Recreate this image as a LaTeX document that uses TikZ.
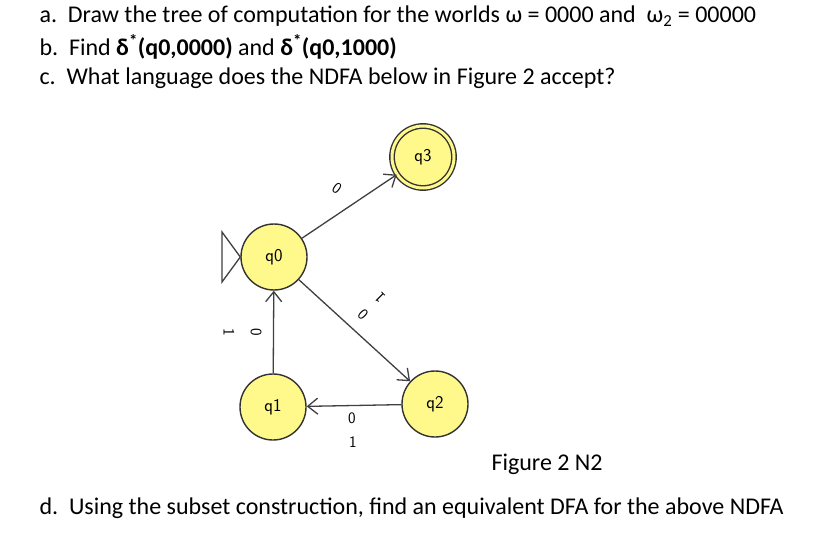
\documentclass[tikz,border=0pt]{standalone}
\usepackage{fontspec}
\setmainfont{Carlito}
\usetikzlibrary{arrows.meta}
\tikzset{
  state/.style={circle, draw=black!80, line width=1.4pt, fill=yellow!45, minimum size=66pt, inner sep=0pt, font=\fontsize{18}{20}\selectfont\sffamily},
  accept/.style={state, double=yellow!45, double distance=3pt, minimum size=62pt},
  trans/.style={draw=black!75, line width=1.3pt, -{Straight Barb[length=10pt,width=16pt]}},
  lbl/.style={font=\fontsize{16}{18}\selectfont\sffamily},
  line/.style={anchor=west, font=\fontsize{24}{28}\selectfont}
}
\begin{document}
\begin{tikzpicture}[x=1pt, y=-1pt]
    \useasboundingbox[fill=white] (0,0) rectangle (818,534);
    \node[line] (ta) at (36,16) {a.\ \ Draw the tree of computation for the worlds ω = 0000 and\ \ ω\textsubscript{2} = 00000};
    \node[line] (tb) at (36,47) {b.\ \ Find \textbf{δ\textsuperscript{*}(q0,0000)} and \textbf{δ\textsuperscript{*}(q0,1000)}};
    \node[line] (tc) at (36,78) {c.\ \ What language does the NDFA below in Figure 2 accept?};
    \node[line] (fig) at (488,464) {Figure 2 N2};
    \node[line] (td) at (36,508) {d.\ \ Using the subset construction, find an equivalent DFA for the above NDFA};

    \node[state] (q0) at (274,257) {q0};
    \node[accept] (q3) at (423,157) {q3};
    \node[state] (q1) at (273,407) {q1};
    \node[state] (q2) at (435,404) {q2};
    \coordinate (s1) at (222,232);
    \coordinate (s2) at (222,282);

    \draw[draw=black!75, line width=1.3pt] (s1) -- (q0.west) -- (s2) -- cycle;
    \draw[trans] (q0) -- (q3);
    \draw[trans] (q0) -- (q2);
    \draw[trans] (q1) -- (q0);
    \draw[trans] (q2) -- (q1);
    \node[lbl, rotate=-35] (l30) at (337,188) {0};
    \node[lbl, rotate=135] (l20) at (363,315) {0};
    \node[lbl, rotate=135] (l21) at (380,298) {1};
    \node[lbl, rotate=-90] (l10) at (256,332) {0};
    \node[lbl, rotate=-90] (l11) at (229,332) {1};
    \node[lbl] (l00) at (352,418) {0};
    \node[lbl] (l01) at (353,442) {1};
\end{tikzpicture}
\end{document}
